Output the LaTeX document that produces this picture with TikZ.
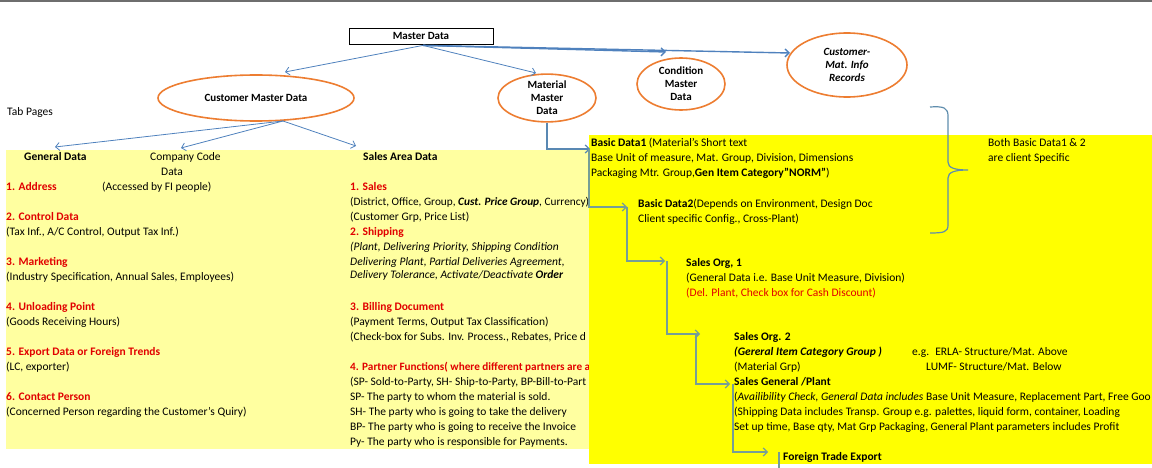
\documentclass[tikz,border=0pt]{standalone}
\usepackage{fontspec}
\setmainfont{Carlito}
\usetikzlibrary{shapes.geometric,arrows.meta}
\definecolor{lyel}{RGB}{255,255,160}
\definecolor{byel}{RGB}{255,255,0}
\definecolor{obl}{RGB}{79,129,189}
\definecolor{cgr}{RGB}{118,158,150}
\definecolor{oorg}{RGB}{237,125,49}
\definecolor{xred}{RGB}{225,0,0}
\definecolor{topgray}{RGB}{110,110,110}
\newcommand{\bodyfont}{\fontsize{11.5}{14}\selectfont}
\tikzset{
  txt/.style={anchor=west, inner sep=0pt, text height=8pt, text depth=2.2pt, font=\bodyfont},
  hd/.style={txt, font=\bodyfont\bfseries},
  rd/.style={txt, font=\bodyfont\bfseries, text=xred},
  ell/.style={ellipse, draw=oorg, line width=1.6pt, fill=white, inner sep=0pt, align=center, font=\fontsize{11}{13}\selectfont\bfseries},
  conn/.style={draw=cgr, line width=1.2pt},
  arr/.style={conn, -{Straight Barb[length=4pt,width=8pt]}},
  sarr/.style={draw=obl, line width=0.8pt, -{Straight Barb[length=4pt,width=8pt]}}
}
\begin{document}
\begin{tikzpicture}[x=1pt,y=-1pt]
\useasboundingbox (0,0) rectangle (1152,468);
\fill[topgray] (0,0) rectangle (1152,2);
% light yellow area
\fill[lyel] (6,150) rectangle (590,449);
% top nodes
\node[draw=black, line width=0.8pt, fill=white, minimum width=144pt, minimum height=16pt, inner sep=0pt, font=\fontsize{11}{13}\selectfont\bfseries] (md) at (421,36) {Master Data};
\node[ell, minimum width=196pt, minimum height=46pt] (cust) at (256,98) {Customer Master Data};
\node[ell, minimum width=98pt, minimum height=44pt] (mat) at (547,98) {Material\\Master\\Data};
\node[ell, minimum width=88pt, minimum height=52pt] (cond) at (681,84) {Condition\\Master\\Data};
\node[ell, minimum width=120pt, minimum height=64pt, font=\fontsize{11}{13}\selectfont\bfseries\itshape] (cmi) at (847,65) {Customer-\\Mat. Info\\Records};
\node[txt] (tab) at (7,113) {Tab Pages};
% arrows from master data
\coordinate (t1) at (285,72);
\coordinate (t2) at (536,73);
\coordinate (t3) at (666,52);
\coordinate (t4) at (790,53);
\draw[sarr] (md.south) ++(2,1) coordinate (mdo) -- (t1);
\draw[sarr] (mdo) -- (t2);
\draw[sarr, line width=1.4pt] (mdo) -- (t3);
\draw[sarr, line width=1.4pt] (mdo) -- (t4);
% left column
\node[hd] (gd) at (24,158) {General Data};
\node[txt] (cc1) at (150,158) {Company Code};
\node[txt] (cc2) at (161,173) {Data};
\node[rd] (l1) at (6,188) {1. Address};
\node[txt] (l1b) at (102,188) {(Accessed by FI people)};
\node[rd] (l2) at (6,218) {2. Control Data};
\node[txt] (l2b) at (6,233) {(Tax Inf., A/C Control, Output Tax Inf.)};
\node[rd] (l3) at (6,263) {3. Marketing};
\node[txt] (l3b) at (6,278) {(Industry Specification, Annual Sales, Employees)};
\node[rd] (l4) at (6,308) {4. Unloading Point};
\node[txt] (l4b) at (6,323) {(Goods Receiving Hours)};
\node[rd] (l5) at (6,353) {5. Export Data or Foreign Trends};
\node[txt] (l5b) at (6,368) {(LC, exporter)};
\node[rd] (l6) at (6,398) {6. Contact Person};
\node[txt] (l6b) at (6,413) {(Concerned Person regarding the Customer's Quiry)};
% middle column
\node[hd] (sad) at (363,158) {Sales Area Data};
\node[rd] (m1) at (350,188) {1. Sales};
\node[txt, font=\fontsize{11.3}{14}\selectfont] (m1b) at (350,203) {(District, Office, Group, \textbf{\textit{Cust. Price Group}}, Currency)};
\node[txt] (m1c) at (350,218) {(Customer Grp, Price List)};
\node[rd] (m2) at (350,233) {2. Shipping};
\node[txt, font=\bodyfont\itshape] (m2b) at (350,248) {(Plant, Delivering Priority, Shipping Condition};
\node[txt, font=\bodyfont\itshape] (m2c) at (350,263) {Delivering Plant, Partial Deliveries Agreement,};
\node[txt, font=\bodyfont\itshape] (m2d) at (350,276) {Delivery Tolerance, Activate/Deactivate \textbf{Order}};
\node[rd] (m3) at (350,308) {3. Billing Document};
\node[txt] (m3b) at (350,323) {(Payment Terms, Output Tax Classification)};
\node[txt] (m3c) at (350,338) {(Check-box for Subs. Inv. Process., Rebates, Price d};
\node[rd, font=\fontsize{11.2}{14}\selectfont\bfseries] (m4) at (350,368) {4. Partner Functions( where different partners are a};
\node[txt] (m4b) at (350,383) {(SP- Sold-to-Party, SH- Ship-to-Party, BP-Bill-to-Part};
\node[txt] (m4c) at (350,398) {SP- The party to whom the material is sold.};
\node[txt] (m4d) at (350,413) {SH- The party who is going to take the delivery};
\node[txt] (m4e) at (350,428) {BP- The party who is going to receive the Invoice};
\node[txt] (m4f) at (350,443) {Py- The party who is responsible for Payments.};
% arrows from customer master
\coordinate (cb) at (283,121);
\coordinate (u1) at (55,147);
\coordinate (u2) at (181,148);
\coordinate (u3) at (356,146);
\draw[sarr] (cb) -- (u1);
\draw[sarr] (cb) -- (u2);
\draw[sarr] (cb) -- (u3);
% bright yellow area
\fill[byel] (589,135) rectangle (1152,464);
% right text
\node[txt] (b1) at (591,144) {\textbf{Basic Data1} (Material's Short text};
\node[txt] (b1b) at (591,159) {Base Unit of measure, Mat. Group, Division, Dimensions};
\node[txt] (b1c) at (591,174) {Packaging Mtr. Group,\textbf{Gen Item Category"NORM"})};
\node[txt] (b2) at (638,205) {\textbf{Basic Data2}(Depends on Environment, Design Doc};
\node[txt] (b2b) at (638,220) {Client specific Config., Cross-Plant)};
\node[hd] (s1) at (686,264) {Sales Org, 1};
\node[txt] (s1b) at (686,279) {(General Data i.e. Base Unit Measure, Division)};
\node[txt, text=xred] (s1c) at (686,294) {(Del. Plant, Check box for Cash Discount)};
\node[hd] (s2) at (734,338) {Sales Org. 2};
\node[txt, font=\bodyfont\bfseries\itshape] (s2b) at (734,353) {(Gereral Item Category Group )};
\node[txt] (s2c) at (734,368) {(Material Grp)};
\node[txt] (eg1) at (912,353) {e.g.~ ERLA- Structure/Mat. Above};
\node[txt] (eg2) at (926,368) {LUMF- Structure/Mat. Below};
\node[hd] (sg) at (734,383) {Sales General /Plant};
\node[txt] (sgb) at (734,398) {(\textit{Availibility Check, General Data includes} Base Unit Measure, Replacement Part, Free Goo};
\node[txt] (sgc) at (734,413) {(Shipping Data includes Transp. Group e.g. palettes, liquid form, container, Loading};
\node[txt] (sgd) at (734,428) {Set up time, Base qty, Mat Grp Packaging, General Plant parameters includes Profit};
\node[hd] (fte) at (783,458) {Foreign Trade Export};
\node[txt] (both1) at (988,144) {Both Basic Data1 \& 2};
\node[txt] (both2) at (988,159) {are client Specific};
% staircase connectors
\coordinate (p1) at (590,149);
\coordinate (p2) at (627,207);
\coordinate (p3) at (665,261);
\coordinate (p4) at (700,334);
\coordinate (p5) at (730,384);
\coordinate (p6) at (768,452);
\coordinate (p7) at (779,468);
\draw[arr, draw=obl!75!cgr] (mat.south) |- (p1);
\draw[arr] (589,149) |- (p2);
\draw[arr] (627,207) |- (p3);
\draw[arr] (667,261) |- (p4);
\draw[arr] (696,334) |- (p5);
\draw[arr] (733,384) |- (p6);
\draw[conn] (779,452) -- (p7);
% brace
\draw[conn, draw=obl!60!cgr] (930,107) .. controls (944,106) and (948,108) .. (948,116) -- (948,162) .. controls (948,168) and (955,170) .. (968,170) .. controls (955,170) and (948,172) .. (948,178) -- (948,225) .. controls (948,232) and (944,233) .. (930,233);
\end{tikzpicture}
\end{document}
